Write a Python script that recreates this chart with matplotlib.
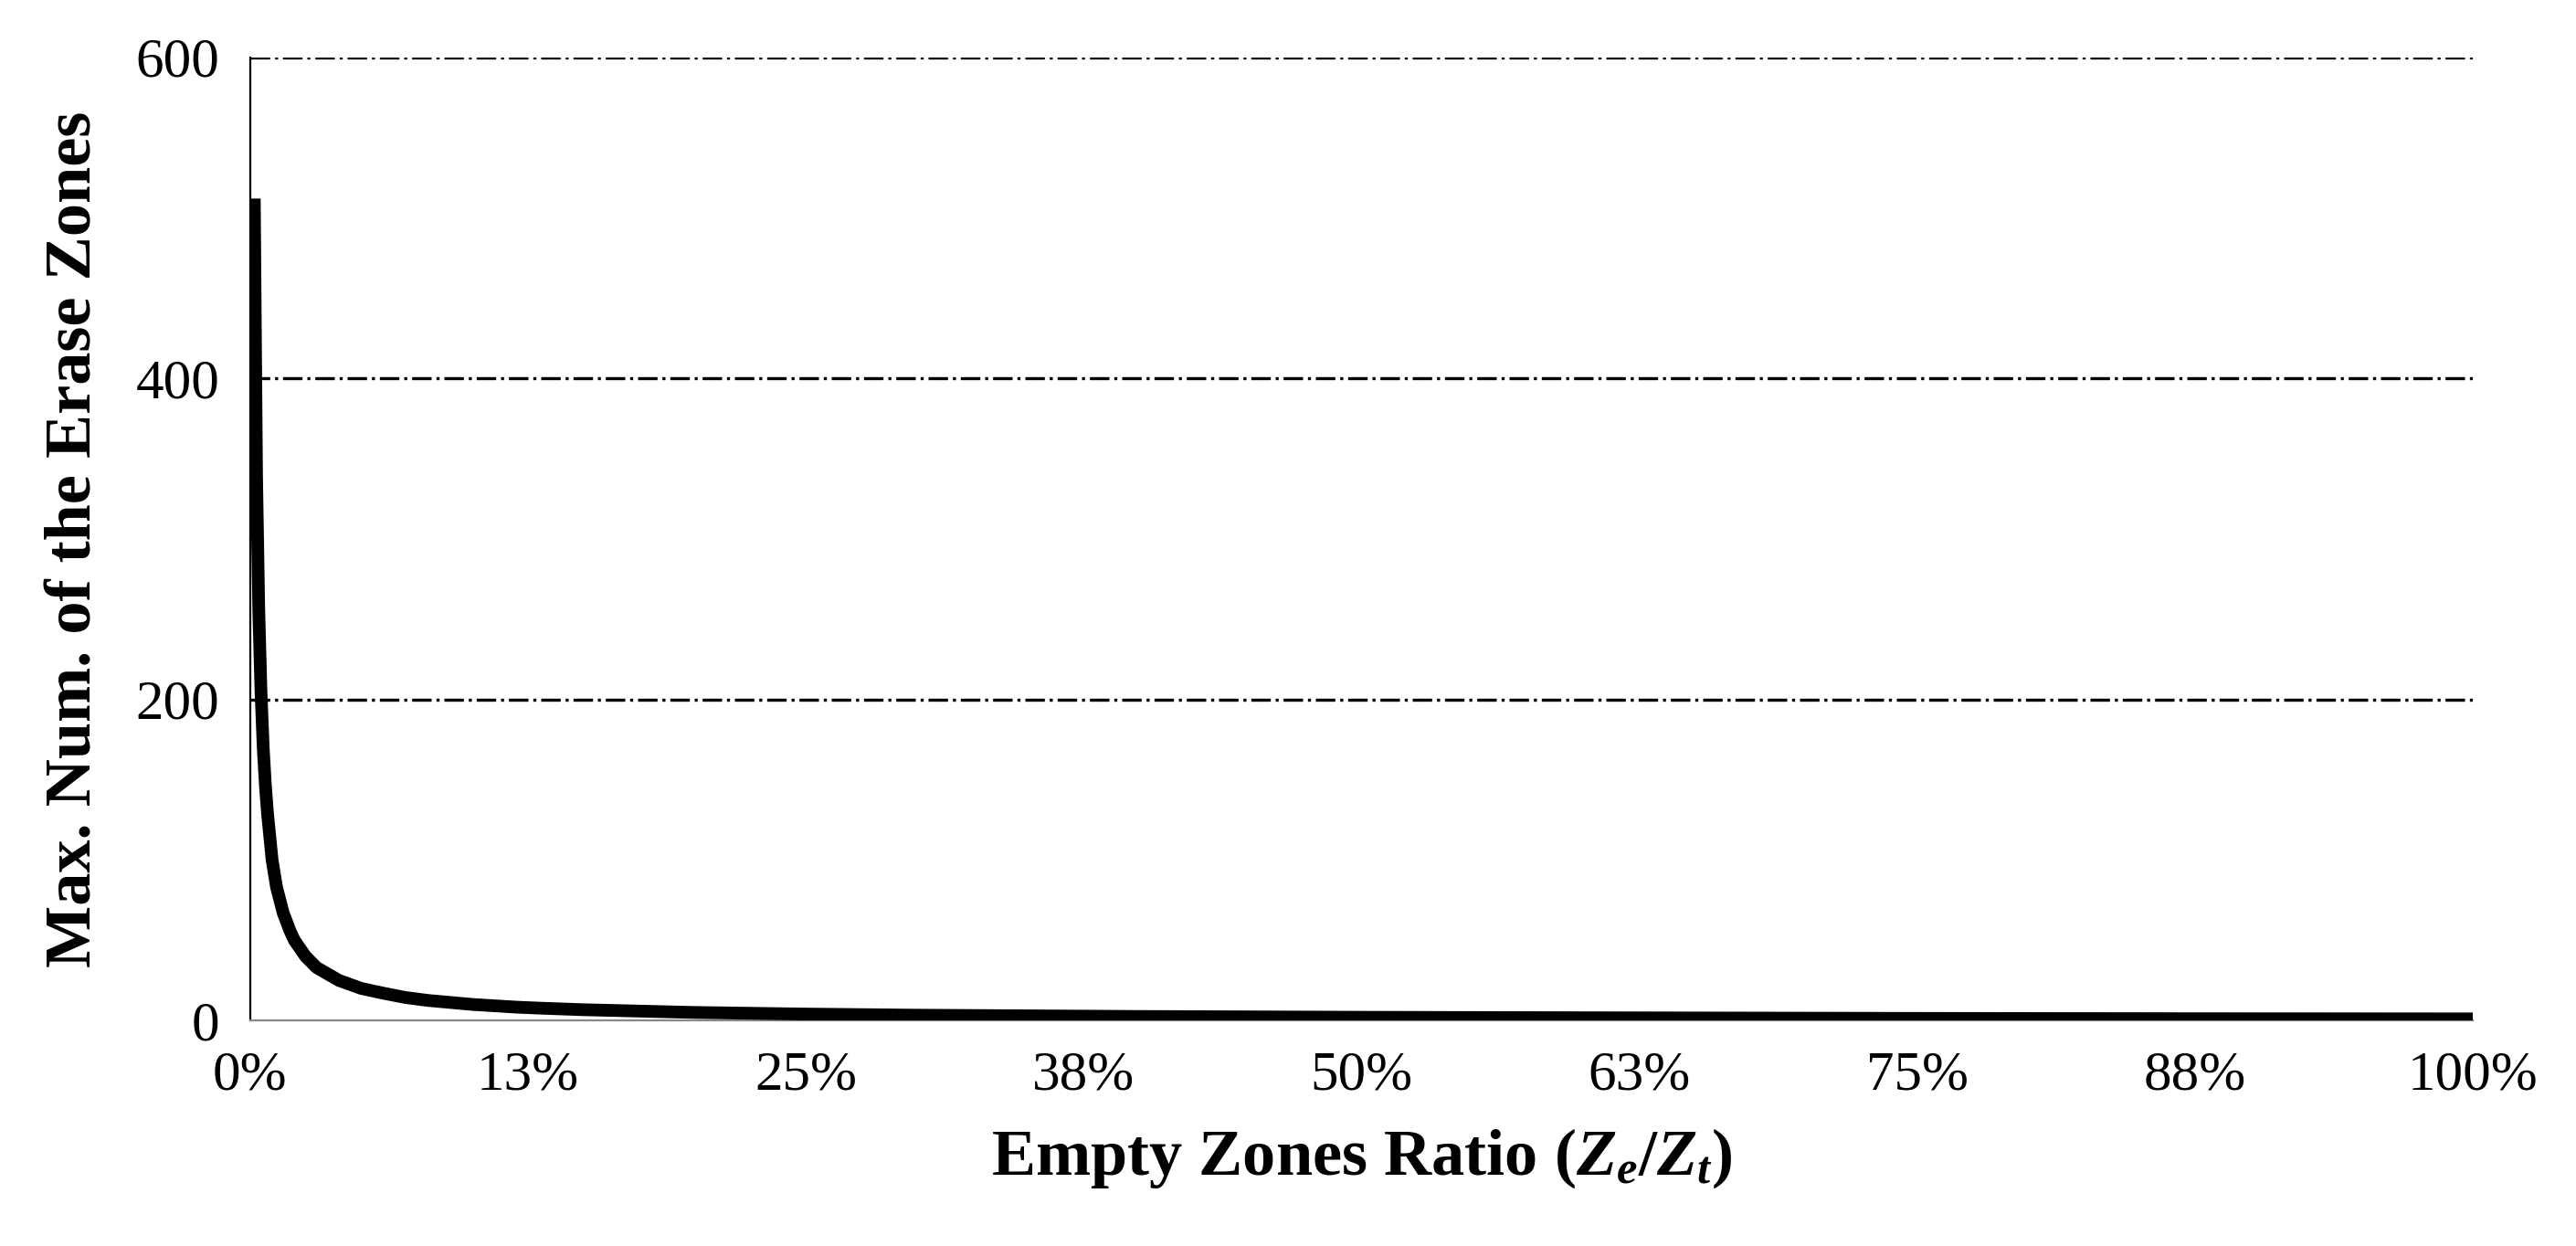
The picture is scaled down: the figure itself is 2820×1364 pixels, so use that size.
import matplotlib
matplotlib.use("Agg")
import matplotlib.pyplot as plt

ratio_pct = [0.2, 0.3, 0.4, 0.5, 0.6, 0.7, 0.8, 1.0, 1.2, 1.5, 1.8, 2.0, 2.5, 3.0, 3.5, 4.0,
             5.0, 6.0, 7.0, 8.0, 10.0, 12.0, 13.0, 15.0, 20.0, 25.0, 30.0, 40.0, 50.0,
             60.0, 75.0, 88.0, 100.0]
max_erase = [512, 340, 256, 205, 170, 146, 128, 100, 83, 67, 56, 50, 40, 33, 29, 25,
             20, 17, 14.3, 12.5, 10, 8.3, 7.7, 6.7, 5, 4, 3.3, 2.5, 2,
             1.7, 1.3, 1.1, 1]
xtick_pos = [0, 12.5, 25, 37.5, 50, 62.5, 75, 87.5, 100]
xtick_labels = ["0%", "13%", "25%", "38%", "50%", "63%", "75%", "88%", "100%"]
ytick_pos = [0, 200, 400, 600]

plt.rcParams['font.family'] = ['Liberation Serif', 'DejaVu Serif']
plt.rcParams['mathtext.fontset'] = 'custom'
plt.rcParams['mathtext.it'] = 'Liberation Serif:italic:bold'
plt.rcParams['mathtext.rm'] = 'Liberation Serif:bold'
plt.rcParams['mathtext.bf'] = 'Liberation Serif:bold'
fig = plt.figure(figsize=(14.1, 6.82), dpi=200)
ax = fig.add_axes([0.097, 0.181, 0.863, 0.773])
ax.plot(ratio_pct, max_erase, color='black', lw=5, solid_capstyle='butt', zorder=3)
ax.set_xlim(0, 100)
ax.set_ylim(0, 600)
ax.set_xticks(xtick_pos)
ax.set_xticklabels(xtick_labels)
ax.set_yticks(ytick_pos)
ax.tick_params(length=0, labelsize=22, pad=12)
for y in ytick_pos[1:]:
    ax.axhline(y, color='black', lw=1.2, ls='-.', zorder=1)
for s in ['top', 'right']:
    ax.spines[s].set_visible(False)
ax.spines['left'].set_color('black')
ax.spines['bottom'].set_color('#888888')
ax.set_xlabel(r"Empty Zones Ratio ($Z_e$/$Z_t$)", fontsize=26, fontweight='bold', labelpad=10)
ax.set_ylabel("Max. Num. of the Erase Zones", fontsize=26, fontweight='bold', labelpad=12)
fig.savefig("out.png", dpi=200)
